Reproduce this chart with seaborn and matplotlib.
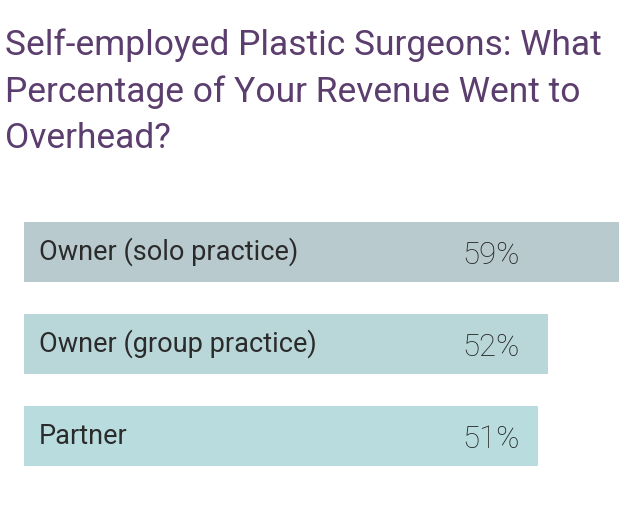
import matplotlib
matplotlib.use("Agg")
import matplotlib.pyplot as plt
import seaborn as sns
import pandas as pd

categories = ["Owner (solo practice)", "Owner (group practice)", "Partner"]
values = [59, 52, 51]
bar_colors = ["#b8cace", "#b9d6d9", "#b9dddf"]
title = "Self-employed Plastic Surgeons: What\nPercentage of Your Revenue Went to\nOverhead?"

sns.set_theme(style="white")
plt.rcParams["font.family"] = ["Roboto", "DejaVu Sans"]

W, H = 640, 525
fig = plt.figure(figsize=(W / 100, H / 100), dpi=100)
fig.patch.set_facecolor("white")

# axes covering bar region (pixels)
ax_left, ax_right = 24, 624
ax_top, ax_bot = 206, 482
ax = fig.add_axes([ax_left / W, 1 - ax_bot / H, (ax_right - ax_left) / W, (ax_bot - ax_top) / H])

df = pd.DataFrame({"category": categories, "value": values})
sns.barplot(data=df, x="value", y="category", hue="category", palette=bar_colors,
            orient="h", width=0.65, legend=False, ax=ax, saturation=1, linewidth=0)

ax.set_xlim(0, (ax_right - ax_left) / 10.08)
ax.set_ylim(2.5, -0.5)
ax.axis("off")

for i, (cat, v) in enumerate(zip(categories, values)):
    ax.annotate(cat, xy=(0, i), xytext=(15 * 0.72, -8 * 0.72), textcoords="offset points",
                ha="left", va="baseline", fontsize=19.5, color="#2b2b2b", family=["Roboto", "DejaVu Sans"])
    ax.annotate(f"{v}%", xy=(0, i), xytext=(438 * 0.72, -12 * 0.72), textcoords="offset points",
                ha="left", va="baseline", fontsize=22.5, color="#222222", fontweight="light",
                family=["Roboto", "DejaVu Sans"])

fig.text(5 / W, 1 - 28 / H, title, ha="left", va="top", fontsize=25.5, color="#5b3d6e",
         linespacing=1.5, family=["Roboto", "DejaVu Sans"])

fig.savefig("out.png", dpi=100, facecolor="white")
